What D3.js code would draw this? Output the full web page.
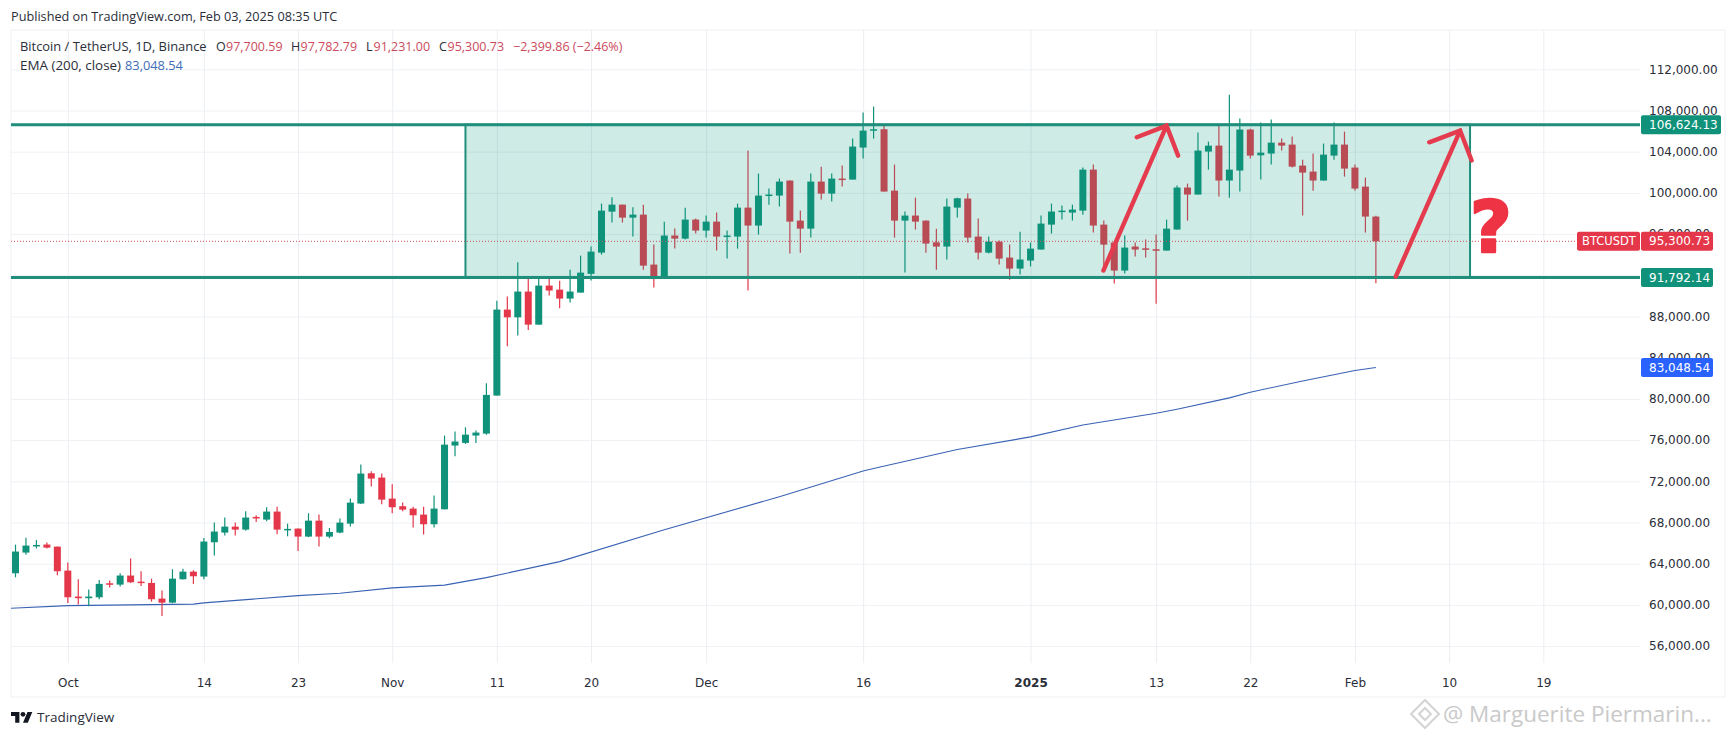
<!DOCTYPE html>
<html>
<head>
<meta charset="utf-8">
<title>BTCUSDT</title>
<script src="https://cdn.jsdelivr.net/npm/d3@7"></script>
<style>
  html, body { margin: 0; padding: 0; background: #fff; }
  svg { display: block; }
  text { font-family: "Open Sans", sans-serif; }
</style>
</head>
<body>
<div id="chart"></div>
<script>
const firstDay = '2024-09-26';
const opens = [63070,65080,65760,65860,65660,63330,60810,60650,60740,62100,61970,62850,62260,62130,60610,60220,62490,63230,62750,66080,67020,67600,67310,68540,68280,69060,67310,67410,66630,68180,66630,67020,67890,69840,72780,72360,70320,69580,69350,68770,67830,
  69280,75470,75730,76440,76630,80320,88670,87920,90420,87210,91000,90610,89740,90320,92140,94200,98180,98860,97600,97890,93040,91780,95860,95560,97410,96340,97210,95760,95760,98570,96830,99740,99740,101200,97310,96530,101100,99930,101390,101290,104400,106080,106180,100220,97310,97800,97310,95200,94790,98570,99450,95760,94200,95270,93720,92650,93430,94500,96920,98190,98090,98280,102260,96920,95180,92460,94790,94620,94530,94400,96440,100520,99840,104010,104590,101200,102170,106150,103650,103820,104880,104690,102650,102070,101200,103620,104690,102460,100610,97700.59];
const highs = [65850,66530,66310,66050,65660,64110,62490,61490,62420,62360,63070,64500,63270,62550,61390,63460,63520,63360,66500,67990,68480,67990,69090,68700,69480,69540,67890,67410,68900,68770,67470,68380,70320,73620,72970,72750,71710,69930,69540,69540,70610,
  76440,76830,77240,76920,81520,89540,89930,93260,91680,91680,91810,91460,92550,93910,94790,98960,99570,98860,98600,98860,94980,97210,96540,98570,97510,97800,98090,96340,98960,104110,101880,100420,101390,101200,98280,101880,102550,101880,102650,105270,107800,108380,106630,102750,98190,99540,97310,96530,99450,99540,99930,97510,95760,95370,94980,96240,95180,97800,98960,98770,98860,102460,102750,97310,95180,95860,95180,95470,95950,97410,100710,100900,105860,104980,106540,109540,107220,106240,106830,107120,105270,105470,103230,103820,104790,106830,105950,102750,101490,97782.79];
const lows = [62680,64880,65470,65470,62880,60190,60030,59870,60550,61680,61780,62130,61840,60320,58930,60160,62460,62040,62490,64790,66730,66730,67210,68060,68120,66860,66660,65240,66570,65660,66470,66960,67600,69800,71490,69770,68900,69090,67510,66830,67510,
  69280,74430,75630,75730,76530,80320,85110,86150,86700,87190,90030,88800,89350,90320,91490,94010,97120,97120,95760,92550,90810,91780,94590,95470,96050,95660,94400,93620,94590,90520,95950,98860,98670,94110,94200,95660,99350,99160,100610,101290,103330,105270,100130,95660,92260,96440,94200,92550,93530,97600,95180,93530,94110,93040,91580,92070,92850,94500,96050,97410,97310,97890,96150,92460,91200,92170,93820,93720,89250,94400,96440,97310,99840,102260,99640,99540,100130,103330,101290,102750,104110,102460,97800,100220,101200,103230,101580,100220,96150,91231];
const closes = [65180,65760,65820,65560,63270,60740,60650,60810,62040,62000,62850,62200,62170,60550,60220,62550,63230,62780,66150,67120,67600,67310,68480,68440,69060,67310,67380,66630,68180,66630,67080,67990,69930,72750,72260,70220,69480,69250,68700,67830,69350,
  75560,75860,76530,76730,80390,88670,87920,90420,87210,91000,90520,89740,90420,92260,94300,98280,98860,97600,97890,92940,91870,95860,95560,97410,96340,97210,95760,95860,98570,96830,99740,99840,101100,97210,96530,101100,99930,101390,101290,104500,106050,106180,100130,97310,97800,97210,95080,94790,98670,99480,95660,94200,95270,93620,92650,93530,94590,97020,98190,98280,98380,102260,96830,94980,92460,94690,94500,94500,94430,96530,100520,99840,104110,104590,101200,102260,106150,103620,103910,104880,104590,102550,101970,101200,103720,104690,102360,100420,97700,95300.73];

// EMA read at the points where the line can be read
const emaDates = ['2024-09-25','2024-10-01','2024-10-13','2024-10-14','2024-10-23','2024-10-27','2024-11-01','2024-11-06','2024-11-10','2024-11-17','2024-11-27','2024-12-08','2024-12-16','2024-12-17','2024-12-25','2025-01-01','2025-01-06','2025-01-13','2025-01-15','2025-01-20','2025-01-22','2025-01-27','2025-02-01','2025-02-03'];
const emaValues = [59640,59930,60080,60200,60900,61130,61650,61920,62650,64200,67300,70500,73000,73250,75080,76310,77460,78600,79000,80100,80650,81740,82750,83048.54];

const priceTicks = d3.range(56000, 112001, 4000);
const timeDates = ['2024-10-01','2024-10-14','2024-10-23','2024-11-01','2024-11-11','2024-11-20','2024-12-01','2024-12-16','2025-01-01','2025-01-13','2025-01-22','2025-02-01','2025-02-10','2025-02-19'];
const timeLabels = ['Oct','14','23','Nov','11','20','Dec','16','2025','13','22','Feb','10','19'];

const zoneDates = ['2024-11-08','2025-02-12'];
const zonePrices = [106624.13, 91792.14];
const lastPrice = 95300.73;
const lastEma = 83048.54;

// hand drawn arrows: [days after Oct 1, price], tail, tip, wing, wing
const arrowOneDays = [98.96,105.0,102.15,106.1];
const arrowOnePrices = [92460,106530,105400,103620];
const arrowTwoDays = [126.9,133.05,130.1,134.15];
const arrowTwoPrices = [91870,106050,104910,103140];

const green = '#0f9279';
const red = '#e5374a';
const zoneLine = '#1f8e7a';
const textColor = '#2a2e39';

const width = 1736;
const height = 737;
const pane = { left: 11, right: 1640, top: 30, bottom: 663 };
const dayMs = 86400000;
const toDate = s => new Date(s + 'T00:00:00Z');

const svg = d3.select('#chart').append('svg')
  .attr('width', width)
  .attr('height', height);

const x = d3.scaleUtc()
  .domain([toDate(firstDay), toDate('2025-02-19')])
  .range([15.5, 1543.3]);

const y = d3.scaleLinear()
  .domain([60000, 112000])
  .range([604.9, 69.3]);

const days = opens.map((d, i) => d3.utcDay.offset(toDate(firstDay), i));
const oct1 = toDate('2024-10-01').getTime();
const arrowX = d => x(new Date(oct1 + d * dayMs));

// frame
svg.append('rect')
  .attr('x', pane.left).attr('y', pane.top)
  .attr('width', 1725 - pane.left).attr('height', 697 - pane.top)
  .attr('fill', 'none').attr('stroke', '#f0f1f4');

svg.append('defs').append('clipPath').attr('id', 'pane')
  .append('rect')
  .attr('x', pane.left).attr('y', pane.top)
  .attr('width', pane.right - pane.left).attr('height', pane.bottom - pane.top);

// grid
svg.append('g')
  .attr('transform', `translate(${pane.left}, 0)`)
  .call(d3.axisRight(y).tickValues(priceTicks).tickSize(pane.right - pane.left).tickFormat(''))
  .call(g => g.select('.domain').remove())
  .selectAll('line').attr('stroke', '#eff1f5');

svg.append('g')
  .attr('transform', `translate(0, ${pane.bottom})`)
  .call(d3.axisTop(x).tickValues(timeDates.map(toDate)).tickSize(pane.bottom - pane.top).tickFormat(''))
  .call(g => g.select('.domain').remove())
  .selectAll('line').attr('stroke', '#eceef2');

const plot = svg.append('g').attr('clip-path', 'url(#pane)');

// EMA
const emaLine = d3.line()
  .x(d => x(toDate(d[0])))
  .y(d => y(d[1]));

plot.append('path')
  .datum(emaDates.map((d, i) => [d, emaValues[i]]))
  .attr('d', emaLine)
  .attr('fill', 'none')
  .attr('stroke', '#3a62b4')
  .attr('stroke-width', 1.1);

// candles
const candles = plot.selectAll('.candle')
  .data(days)
  .enter().append('g')
  .attr('class', 'candle');

candles.append('line')
  .attr('x1', d => x(d)).attr('x2', d => x(d))
  .attr('y1', (d, i) => y(highs[i]))
  .attr('y2', (d, i) => y(lows[i]))
  .attr('stroke', (d, i) => closes[i] >= opens[i] ? green : red)
  .attr('stroke-width', 1.2);

candles.append('rect')
  .attr('x', d => x(d) - 3.5)
  .attr('width', 7)
  .attr('y', (d, i) => y(Math.max(opens[i], closes[i])))
  .attr('height', (d, i) => Math.max(1.5, Math.abs(y(opens[i]) - y(closes[i]))))
  .attr('fill', (d, i) => closes[i] >= opens[i] ? green : red);

// range box
plot.append('rect')
  .attr('x', x(toDate(zoneDates[0])))
  .attr('y', y(zonePrices[0]))
  .attr('width', x(toDate(zoneDates[1])) - x(toDate(zoneDates[0])))
  .attr('height', y(zonePrices[1]) - y(zonePrices[0]))
  .attr('fill', '#089981').attr('fill-opacity', 0.2)
  .attr('stroke', zoneLine).attr('stroke-width', 2);

plot.selectAll('.zone-line')
  .data(zonePrices)
  .enter().append('line')
  .attr('class', 'zone-line')
  .attr('x1', pane.left).attr('x2', pane.right)
  .attr('y1', d => y(d)).attr('y2', d => y(d))
  .attr('stroke', zoneLine).attr('stroke-width', 3);

// last price line
plot.append('line')
  .attr('x1', pane.left).attr('x2', 1577)
  .attr('y1', y(lastPrice)).attr('y2', y(lastPrice))
  .attr('stroke', '#c9505f').attr('stroke-width', 1).attr('stroke-dasharray', '1 2');

// arrows
[[arrowOneDays, arrowOnePrices], [arrowTwoDays, arrowTwoPrices]].forEach(([ds, ps]) => {
  const pt = i => [arrowX(ds[i]), y(ps[i])];
  const d = `M${pt(0)}L${pt(1)}M${pt(2)}L${pt(1)}L${pt(3)}`;
  svg.append('path')
    .attr('d', d)
    .attr('fill', 'none')
    .attr('stroke', '#e43c4e')
    .attr('stroke-width', 4.4)
    .attr('stroke-linecap', 'round')
    .attr('stroke-linejoin', 'miter');
});

svg.append('text')
  .attr('x', 1491).attr('y', 251.5)
  .attr('text-anchor', 'middle')
  .style('font-family', '"DejaVu Sans"')
  .style('font-weight', 'bold')
  .style('font-size', '72px')
  .attr('fill', '#ee3344')
  .attr('stroke', '#ee3344')
  .attr('stroke-width', 2.5)
  .attr('stroke-linejoin', 'round')
  .text('?');

// price axis
const priceAxis = svg.append('g')
  .attr('transform', `translate(${pane.right}, 0)`)
  .call(d3.axisRight(y).tickValues(priceTicks).tickSize(0).tickPadding(9).tickFormat(d3.format(',.2f')));
priceAxis.select('.domain').remove();
priceAxis.selectAll('text')
  .attr('fill', textColor)
  .style('font-family', '"DejaVu Sans"')
  .style('font-size', '12px');

// time axis
const timeAxis = svg.append('g')
  .attr('transform', `translate(0, 678)`)
  .call(d3.axisBottom(x).tickValues(timeDates.map(toDate)).tickSize(0).tickPadding(0)
    .tickFormat((d, i) => timeLabels[i]));
timeAxis.select('.domain').remove();
timeAxis.selectAll('text')
  .attr('fill', textColor)
  .style('font-family', '"DejaVu Sans"')
  .style('font-size', '12px')
  .style('font-weight', (d, i) => timeLabels[i] === '2025' ? 'bold' : 'normal');

// price labels
const labels = [
  { text: '106,624.13', price: zonePrices[0], color: '#0f9279', w: 80 },
  { text: '95,300.73', price: lastPrice, color: red, w: 72 },
  { text: '91,792.14', price: zonePrices[1], color: '#0f9279', w: 72 },
  { text: '83,048.54', price: lastEma, color: '#2962ff', w: 72 }
];
const label = svg.selectAll('.price-label')
  .data(labels)
  .enter().append('g')
  .attr('class', 'price-label')
  .attr('transform', d => `translate(1641, ${y(d.price)})`);
label.append('rect')
  .attr('y', -9.5).attr('height', 19).attr('rx', 2)
  .attr('width', d => d.w)
  .attr('fill', d => d.color);
label.append('text')
  .attr('x', 8).attr('dy', '0.34em')
  .attr('fill', '#fff')
  .style('font-family', '"DejaVu Sans"')
  .style('font-size', '12px')
  .text(d => d.text);

const symbolTag = svg.append('g')
  .attr('transform', `translate(1577, ${y(lastPrice)})`);
symbolTag.append('rect')
  .attr('y', -9.5).attr('height', 19).attr('width', 63).attr('rx', 2).attr('fill', red);
symbolTag.append('text')
  .attr('x', 5).attr('dy', '0.34em').attr('fill', '#fff')
  .style('font-family', '"DejaVu Sans"')
  .style('font-size', '11.5px')
  .text('BTCUSDT');

// header and legend
const headText = (tx, ty, str, color, size) => svg.append('text')
  .attr('x', tx).attr('y', ty)
  .attr('fill', color)
  .style('font-family', '"Open Sans"')
  .style('font-size', (size || 12.5) + 'px')
  .text(str);

headText(11, 21, 'Published on TradingView.com, Feb 03, 2025 08:35 UTC', textColor, 12.7);
headText(20, 51, 'Bitcoin / TetherUS, 1D, Binance', textColor, 12.9);

const legendKeys = ['O', 'H', 'L', 'C'];
const legendValues = ['97,700.59', '97,782.79', '91,231.00', '95,300.73'];
const legendX = [216, 291, 366, 439];
const legendGap = [10, 9.5, 7.5, 8.5];
legendKeys.forEach((k, i) => {
  headText(legendX[i], 51, k, textColor);
  headText(legendX[i] + legendGap[i], 51, legendValues[i], '#cb4a5c');
});
headText(513, 51, '\u22122,399.86 (\u22122.46%)', '#cb4a5c');
headText(20, 70, 'EMA (200, close)', textColor, 13.4);
headText(125, 70, '83,048.54', '#3f6cb8', 12.8);

// footer logo
const logo = svg.append('g')
  .attr('transform', 'translate(11, 709.5) scale(0.6)')
  .attr('fill', '#131722');
logo.append('path').attr('d', 'M14 22H7V11H0V4h14v18zM28 22h-8l7.5-18h8L28 22z');
logo.append('circle').attr('cx', 20).attr('cy', 8).attr('r', 4);
headText(37, 722, 'TradingView', '#2a2e39', 13.5);

// watermark
const mark = svg.append('g')
  .attr('transform', 'translate(1425, 714)')
  .attr('fill', 'none').attr('stroke', '#d4d4d4').attr('stroke-width', 2);
mark.append('path').attr('d', 'M0 -14L14 0L0 14L-14 0Z');
mark.append('path').attr('d', 'M0 -6L6 0L0 6L-6 0Z');
svg.append('text')
  .attr('x', 1443).attr('y', 722)
  .attr('fill', '#c9c9c9')
  .style('font-family', '"Open Sans"')
  .style('font-size', '22.5px')
  .text('@ Marguerite Piermarin...');
</script>
</body>
</html>
